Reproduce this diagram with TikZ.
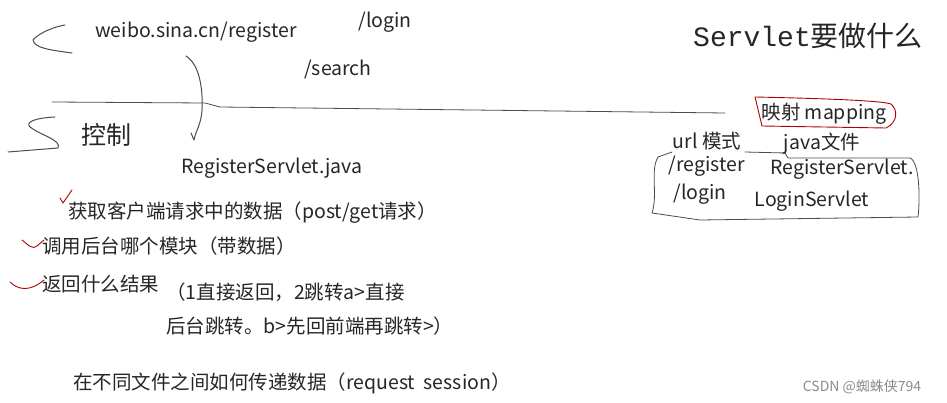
\documentclass[tikz,border=0pt]{standalone}
\usepackage{fontspec}
\setmainfont{Noto Sans CJK SC}
\newfontfamily\serfont{Liberation Mono}
\begin{document}
\begin{tikzpicture}[x=1pt,y=-1pt,
  txt/.style={inner sep=0pt,font=\fontsize{19.5}{19.5}\selectfont,text=black!85},
  txl/.style={txt,anchor=west},
  pen/.style={draw=black!70,line width=1pt,line cap=round,line join=round},
  redpen/.style={draw=red!70!black,line width=0.9pt,line cap=round,line join=round}]
\useasboundingbox (0,0) rectangle (947,403);
\fill[white] (0,0) rectangle (947,403);
% strokes
\draw[pen] (65,25) .. controls (48,28) and (36,36) .. (33,40) .. controls (34,48) and (50,50) .. (72,53);
\draw[pen] (55,117) .. controls (35,118) and (25,122) .. (30,127) .. controls (40,135) and (62,140) .. (58,148) -- (8,152);
\draw[pen] (186,56) .. controls (200,65) and (203,90) .. (202,110) .. controls (201,125) and (196,130) .. (194,140) -- (191,133);
\draw[pen,line width=0.8pt] (52,102) -- (205,103) -- (220,107) -- (725,113);
\draw[redpen] (755,97) .. controls (800,98) and (880,100) .. (891,104) .. controls (898,110) and (898,122) .. (886,128) -- (762,126) -- cycle;
\draw[pen,line width=0.8pt] (745,152) -- (785,153) -- (788,158)
  -- (910,158) .. controls (920,162) and (920,200) .. (918,217) -- (700,220) -- (652,213)
  .. controls (658,195) and (650,170) .. (658,157) -- (672,152);
\draw[redpen] (60,198) -- (63,203) -- (72,190);
\draw[redpen] (22,240) .. controls (28,245) and (33,250) .. (37,246) -- (44,240);
\draw[redpen] (10,282) .. controls (18,290) and (30,292) .. (44,280);
% texts
\node[txt] (url) at (196,32) {weibo.sina.cn/register};
\node[txt] (login) at (385,22) {/login};
\node[txt] (search) at (338,69) {/search};
\node[txt,font=\fontsize{28}{28}\selectfont] (title) at (808,36) {{\serfont Servlet}要做什么};
\node[txt,font=\fontsize{25}{25}\selectfont] (ctrl) at (106,135) {控制};
\node[txt] (rs) at (272,168) {RegisterServlet.java};
\node[txl] (a1) at (68,213) {获取客户端请求中的数据（post/get请求）};
\node[txl] (a2) at (42,246) {调用后台哪个模块（带数据）};
\node[txl] (a3) at (42,284) {返回什么结果};
\node[txl] (a4) at (166,292) {（1直接返回，2跳转a>直接};
\node[txl] (a5) at (166,326) {后台跳转。b>先回前端再跳转>）};
\node[txl] (a6) at (73,383) {在不同文件之间如何传递数据（request\ \ session）};
\node[txt] (map) at (824,114) {映射 mapping};
\node[txt] (um) at (707,141) {url 模式};
\node[txt] (jf) at (822,144) {java文件};
\node[txt] (r1) at (707,166) {/register};
\node[txt] (r2) at (842,169) {RegisterServlet.};
\node[txt] (l1) at (700,194) {/login};
\node[txt] (l2) at (812,201) {LoginServlet};
\node[txt,font=\fontsize{14}{14}\selectfont,text=black!45] (csdn) at (862,387) {CSDN @蜘蛛侠794};
\end{tikzpicture}
\end{document}
